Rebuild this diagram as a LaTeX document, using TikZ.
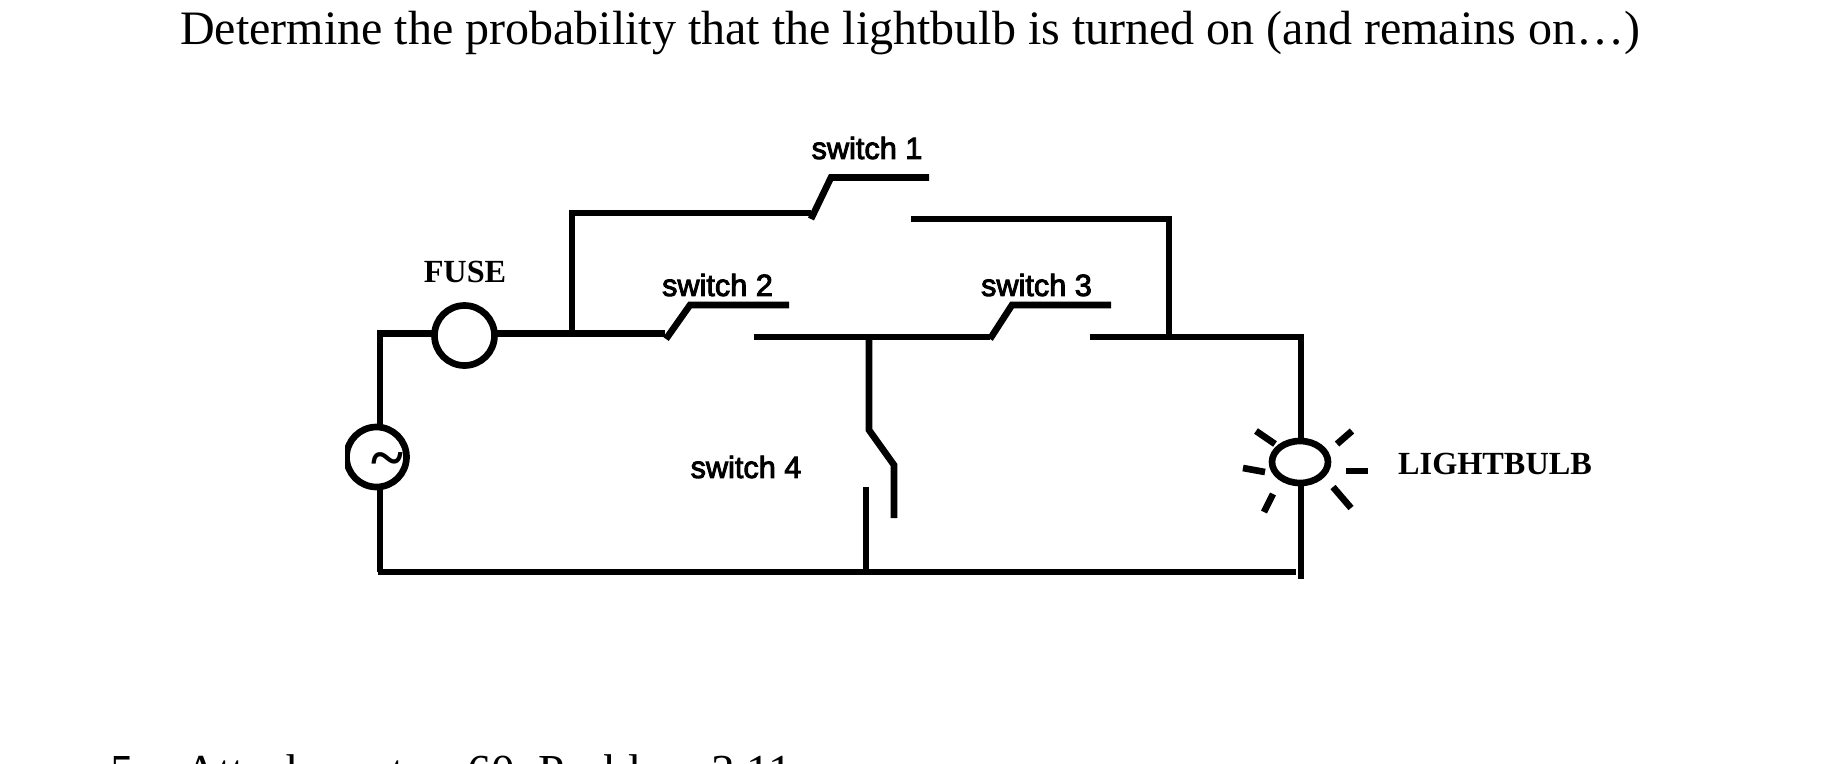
\documentclass[tikz,border=0pt]{standalone}
\usepackage{fontspec}
\usetikzlibrary{shapes.geometric}
\setmainfont{Liberation Serif}
\newfontfamily\switchfont[FakeBold=3]{Liberation Sans}
\begin{document}
\begin{tikzpicture}[x=0.75pt,y=-0.75pt,
                    every node/.style={inner sep=0pt,outer sep=0pt},
                    wire/.style={line width=5pt},
                    ray/.style={line width=5pt},
                    part/.style={draw,line width=5pt,circle,minimum size=45pt,fill=white},
                    lamp/.style={draw,line width=5pt,ellipse,minimum width=42pt,minimum height=31.5pt,fill=white},
                    switchlabel/.style={font=\switchfont\fontsize{23}{24}\selectfont},
                    serifbold/.style={font=\bfseries\fontsize{24.2}{26}\selectfont},
                    title/.style={font=\fontsize{36}{38}\selectfont},
                    nextline/.style={font=\fontsize{35.5}{38}\selectfont,anchor=base west}]
    \useasboundingbox (0,0) rectangle (1846,764);
    \clip (0,0) rectangle (1846,764);
    % corners and ends of the wires
    \coordinate (bl) at (378,572);
    \coordinate (br) at (380,572);
    \coordinate (tl) at (380,333.5);
    \coordinate (up) at (572,333.5);
    \coordinate (upt) at (572,213);
    \coordinate (s1a) at (811,213);
    \coordinate (s1b) at (811,219);
    \coordinate (s1c) at (831,177.5);
    \coordinate (s1d) at (929,177.5);
    \coordinate (s1e) at (911,219);
    \coordinate (s1f) at (1169,219);
    \coordinate (s1g) at (1169,337);
    \coordinate (s2a) at (665,333.5);
    \coordinate (s2b) at (666,339);
    \coordinate (s2c) at (690,305);
    \coordinate (s2d) at (789,305);
    \coordinate (mida) at (754,337);
    \coordinate (midb) at (990,337);
    \coordinate (s3b) at (990,339);
    \coordinate (s3c) at (1012,305);
    \coordinate (s3d) at (1111,305);
    \coordinate (righta) at (1090,337);
    \coordinate (rightb) at (1301,337);
    \coordinate (s4a) at (869,337);
    \coordinate (s4b) at (869,430);
    \coordinate (s4c) at (894,465);
    \coordinate (s4d) at (894,518);
    \coordinate (s4e) at (866,487);
    \coordinate (s4f) at (866,572);
    \coordinate (lowa) at (1296,572);
    \coordinate (lowb) at (1301,579);
    % wires
    \draw[wire] (br) -- (tl) -- (up) -- (s2a);
    \draw[wire] (bl) -- (lowa);
    \draw[wire] (up) -- (upt) -- (s1a);
    \draw[wire] (s1b) -- (s1c) -- (s1d);
    \draw[wire] (s1e) -- (s1f) -- (s1g);
    \draw[wire] (s2b) -- (s2c) -- (s2d);
    \draw[wire] (mida) -- (midb);
    \draw[wire] (s3b) -- (s3c) -- (s3d);
    \draw[wire] (righta) -- (rightb) -- (lowb);
    \draw[wire] (s4a) -- (s4b) -- (s4c) -- (s4d);
    \draw[wire] (s4e) -- (s4f);
    % parts
    \node[part] (fuse) at (464.5,335.5) {};
    \begin{scope}
        \clip (345,400) rectangle (420,510);
        \node[part] (source) at (376.5,457) {};
    \end{scope}
    \node[font=\bfseries\fontsize{46}{48}\selectfont] (tilde) at (387,466) {\textasciitilde};
    \node[lamp] (bulb) at (1300,462) {};
    % rays of the lightbulb
    \draw[ray] (1256,431) -- (1275,444);
    \draw[ray] (1352,431) -- (1337,444);
    \draw[ray] (1243,468) -- (1265,472);
    \draw[ray] (1346,471) -- (1368,471);
    \draw[ray] (1273,494) -- (1264,512);
    \draw[ray] (1333,487) -- (1351,508);
    % labels
    \node[title] (heading) at (910,33) {Determine the probability that the lightbulb is turned on (and remains on\ldots)};
    \node[nextline] (itemnum) at (110,787) {5.};
    \node[nextline] (nextitem) at (184,787) {Attachment p. 60, Problem 3.11};
    \node[switchlabel] (sw1) at (867,148) {switch 1};
    \node[switchlabel] (sw2) at (717.5,285) {switch 2};
    \node[switchlabel] (sw3) at (1036.5,285) {switch 3};
    \node[switchlabel] (sw4) at (746,467) {switch 4};
    \node[serifbold] (fuselabel) at (465,272) {FUSE};
    \node[serifbold] (bulblabel) at (1495,464) {LIGHTBULB};
\end{tikzpicture}
\end{document}
